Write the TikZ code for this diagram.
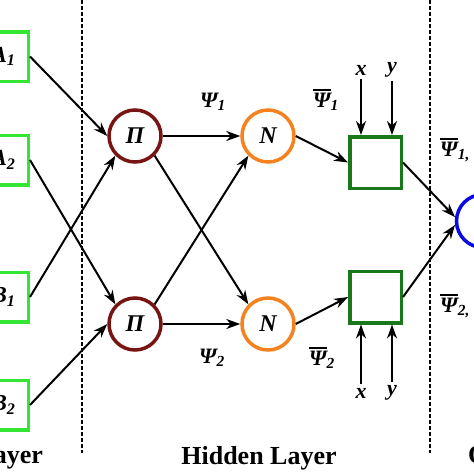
\documentclass[tikz,border=0pt]{standalone}
\usepackage{fontspec}
\setmainfont{Liberation Serif}
\usetikzlibrary{arrows.meta}
\definecolor{inboxcol}{RGB}{51,230,51}
\definecolor{picol}{RGB}{120,20,20}
\definecolor{ncol}{RGB}{245,130,30}
\definecolor{rulecol}{RGB}{25,120,25}
\definecolor{outcol}{RGB}{10,10,230}
\newcommand\olpsi{\vbox{\hrule height 2pt\kern 2pt\hbox{Ψ}}}

\begin{document}
\begin{tikzpicture}
[x=1pt,y=-1pt,
 font=\fontsize{22}{26}\selectfont\bfseries\itshape,
 inputstyle/.style={draw=inboxcol,line width=3.5pt,minimum size=49.5pt,inner sep=0pt,font=\fontsize{23}{26}\selectfont\bfseries\itshape},
 prodstyle/.style={circle,draw=picol,line width=3.5pt,minimum size=52pt,inner sep=0pt,font=\fontsize{24}{26}\selectfont\bfseries\itshape},
 normstyle/.style={circle,draw=ncol,line width=3.5pt,minimum size=52pt,inner sep=0pt,font=\fontsize{24}{26}\selectfont\bfseries\itshape},
 rulestyle/.style={draw=rulecol,line width=3.5pt,minimum size=51.5pt,inner sep=0pt},
 outstyle/.style={circle,draw=outcol,line width=3.5pt,minimum size=53pt,inner sep=0pt},
 arrowstyle/.style={line width=2pt,-{Stealth[length=14pt,width=10pt]}},
 layerstyle/.style={line width=2pt,dash pattern=on 3.5pt off 2.5pt},
 labelstyle/.style={font=\fontsize{26}{30}\selectfont\bfseries}]
\useasboundingbox (0,0) rectangle (474,474);
\clip (0,0) rectangle (474,474);
%% layer borders
\draw[layerstyle] (82,0) -- (82,453);
\draw[layerstyle] (430,0) -- (430,453);
%% input layer
\node[inputstyle] (a1) at (3.5,56.5) {A\textsubscript{1}};
\node[inputstyle] (a2) at (3.5,160) {A\textsubscript{2}};
\node[inputstyle] (b1) at (3.5,297) {B\textsubscript{1}};
\node[inputstyle] (b2) at (3.5,405) {B\textsubscript{2}};
%% hidden layer
\node[prodstyle] (p1) at (135,136) {Π};
\node[prodstyle] (p2) at (135,324) {Π};
\node[normstyle] (n1) at (268,136) {N};
\node[normstyle] (n2) at (268,324) {N};
\node[rulestyle] (r1) at (375.5,162.5) {};
\node[rulestyle] (r2) at (375.5,297) {};
\node[outstyle] (o) at (483,221) {};
%% weights
\node (w1) at (213,102) {Ψ\textsubscript{1}};
\node (w2) at (212,358) {Ψ\textsubscript{2}};
\node (nw1) at (326,100) {\olpsi\textsubscript{1}};
\node (nw2) at (322,358) {\olpsi\textsubscript{2}};
\node[anchor=west,inner sep=0pt] (ow1) at (440,150) {\olpsi\textsubscript{1,}};
\node[anchor=west,inner sep=0pt] (ow2) at (440,306) {\olpsi\textsubscript{2,}};
%% premise inputs
\node (x1) at (361,70) {x};
\node (y1) at (392,70) {y};
\node (x2) at (361,393) {x};
\node (y2) at (392,393) {y};
%% connections
\draw[arrowstyle] (a1.east) -- (p1.west);
\draw[arrowstyle] (a2.east) -- (p2.north west);
\draw[arrowstyle] (b1.east) -- (p1.south west);
\draw[arrowstyle] (b2.east) -- (p2.west);
\draw[arrowstyle] (p1.east) -- (n1.west);
\draw[arrowstyle] (p1.south east) -- (n2.north west);
\draw[arrowstyle] (p2.north east) -- (n1.south west);
\draw[arrowstyle] (p2.east) -- (n2.west);
\draw[arrowstyle] (n1.east) -- (r1.west);
\draw[arrowstyle] (n2.east) -- (r2.west);
\draw[arrowstyle] (x1) -- (x1 |- r1.north);
\draw[arrowstyle] (y1) -- (y1 |- r1.north);
\draw[arrowstyle] (x2) -- (x2 |- r2.south);
\draw[arrowstyle] (y2) -- (y2 |- r2.south);
\draw[arrowstyle] (r1.east) -- (o.172);
\draw[arrowstyle] (r2.east) -- (o.188);
%% layer names
\node[labelstyle] (inlab) at (-24.5,458) {Input Layer};
\node[labelstyle] (hidlab) at (259,458) {Hidden Layer};
\node[labelstyle] (outlab) at (545,458) {Output Layer};
\end{tikzpicture}
\end{document}
